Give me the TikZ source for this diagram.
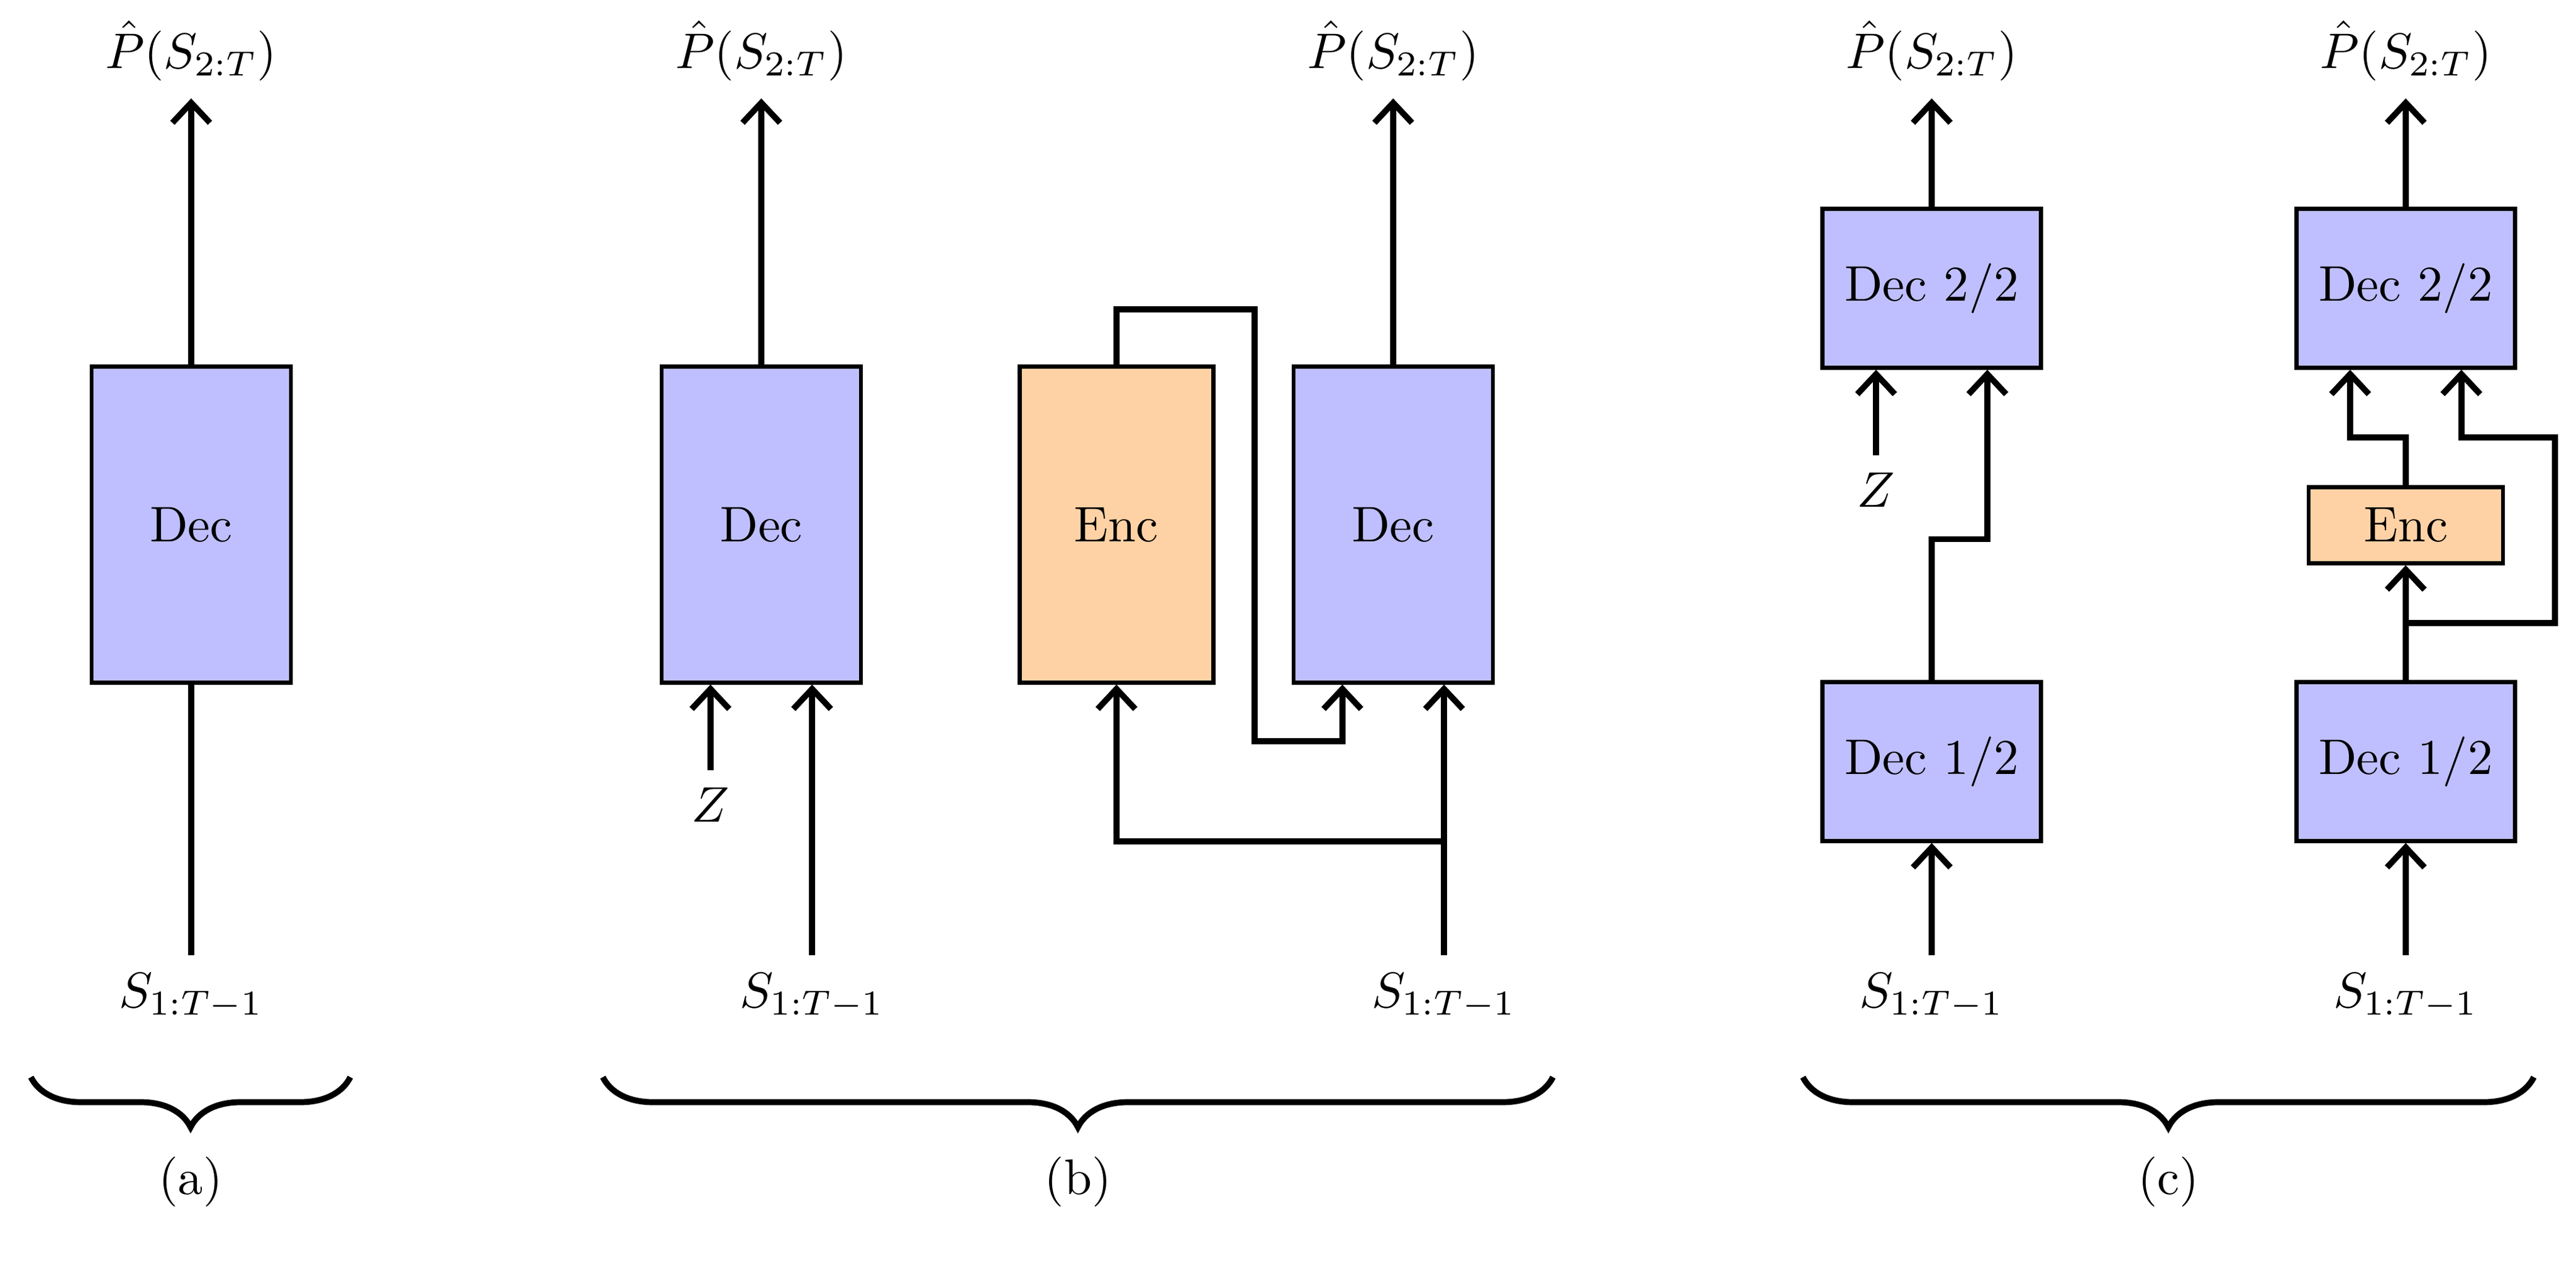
\documentclass[tikz,border=0pt]{standalone}
\usepackage{amsmath}
\usepackage{amssymb}
\usepackage{tikz}
\usetikzlibrary{arrows.meta}
\usetikzlibrary{positioning}
\usetikzlibrary{calc}
\usetikzlibrary{decorations.pathreplacing}

\begin{document}
\begin{tikzpicture}[
                >= {Straight Barb[length = 4pt, width = 7.5pt]},
                flow/.style = {very thick},
                block/.style = {draw, thick, rectangle, inner sep = 0pt,
                                minimum width = 1.4cm},
                dec/.style = {block, fill = blue!25},
                enc/.style = {block, fill = orange!35},
                tall/.style = {minimum height = 2.22cm},
                half/.style = {minimum width = 1.535cm, minimum height = 1.117cm},
                group/.style = {decorate, very thick,
                                decoration = {brace, mirror, amplitude = 10pt}}
                ]
              \useasboundingbox (0, 0) rectangle (18.096, -8.939);

              % (a)
              \node[dec, tall] (DecA) at (1.343, -3.687) {Dec};
              \node (OutA) at (1.343, -0.357) {$\hat{P}(S_{2:T})$};
              \node (InA)  at (1.343, -7.0)   {$S_{1:T-1}$};
              \draw[flow, ->] (DecA) -- (OutA);
              \draw[flow] (InA) -- (DecA);

              % (b), left
              \node[dec, tall] (DecB) at (5.348, -3.687) {Dec};
              \node (OutB) at (5.348, -0.357) {$\hat{P}(S_{2:T})$};
              \coordinate (DecBl) at ($(DecB.south west)!0.25!(DecB.south east)$);
              \coordinate (DecBr) at ($(DecB.south west)!0.75!(DecB.south east)$);
              \node[below = 0.6cm of DecBl] (ZB) {$Z$};
              \node (InB) at (DecBr |- InA) {$S_{1:T-1}$};
              \draw[flow, ->] (DecB) -- (OutB);
              \draw[flow, ->] (ZB) -- (DecBl);
              \draw[flow, ->] (InB) -- (DecBr);

              % (b), right
              \node[enc, tall, minimum width = 1.36cm] (EncB) at (7.843, -3.687) {Enc};
              \node[dec, tall] (DecC) at (9.787, -3.687) {Dec};
              \node (OutC) at (9.787, -0.357) {$\hat{P}(S_{2:T})$};
              \coordinate (DecCl) at ($(DecC.south west)!0.25!(DecC.south east)$);
              \coordinate (DecCr) at ($(DecC.south west)!0.75!(DecC.south east)$);
              \node (InC) at (DecCr |- InA) {$S_{1:T-1}$};
              \coordinate (LoopB)  at (8.813, -5.209);
              \coordinate (SplitB) at (DecCr |- 0, -5.913);
              \draw[flow, ->] (DecC) -- (OutC);
              \draw[flow, ->] (InC) -- (DecCr);
              \draw[flow, ->] (SplitB) -| (EncB);
              \draw[flow, ->] (EncB.north) -- ++(0, 0.39) -| (LoopB) -| (DecCl);

              % (c), left
              \node[dec, half] (TopL) at (13.57, -2.026) {Dec 2/2};
              \node[dec, half] (BotL) at (13.57, -5.352) {Dec 1/2};
              \node (OutD) at (13.57, -0.357) {$\hat{P}(S_{2:T})$};
              \node (InD)  at (13.57, -7.0)   {$S_{1:T-1}$};
              \coordinate (TopLl) at ($(TopL.south west)!0.25!(TopL.south east)$);
              \coordinate (TopLr) at ($(TopL.south west)!0.75!(TopL.south east)$);
              \node[below = 0.6cm of TopLl] (ZD) {$Z$};
              \draw[flow, ->] (TopL) -- (OutD);
              \draw[flow, ->] (InD) -- (BotL);
              \draw[flow, ->] (ZD) -- (TopLl);
              \draw[flow, ->] (BotL.north) -- ++(0, 0.99) -| (TopLr);

              % (c), right
              \node[dec, half] (TopR) at (16.9, -2.026) {Dec 2/2};
              \node[dec, half] (BotR) at (16.9, -5.352) {Dec 1/2};
              \node[enc, minimum width = 1.365cm, minimum height = 0.535cm] (EncR)
                    at (16.9, -3.691) {Enc};
              \node (OutE) at (16.9, -0.357) {$\hat{P}(S_{2:T})$};
              \node (InE)  at (16.9, -7.0)   {$S_{1:T-1}$};
              \coordinate (TopRl) at ($(TopR.south west)!0.25!(TopR.south east)$);
              \coordinate (TopRr) at ($(TopR.south west)!0.75!(TopR.south east)$);
              \coordinate (SplitR) at ($(BotR.north) + (0, 0.4)$);
              \coordinate (LoopR)  at (17.948, -3.074);
              \draw[flow, ->] (TopR) -- (OutE);
              \draw[flow, ->] (InE) -- (BotR);
              \draw[flow, ->] (BotR) -- (EncR);
              \draw[flow, ->] (EncR.north) -- ++(0, 0.335) -| (TopRl);
              \draw[flow, ->] (SplitR) -| (LoopR) -| (TopRr);

              % Braces
              \draw[group] (0.217, -7.57) -- (2.461, -7.57)
                node [midway, below = 12pt] {(a)};
              \draw[group] (4.235, -7.57) -- (10.909, -7.57)
                node [midway, below = 12pt] {(b)};
              \draw[group] (12.665, -7.57) -- (17.8, -7.57)
                node [midway, below = 12pt] {(c)};
            \end{tikzpicture}
\end{document}
